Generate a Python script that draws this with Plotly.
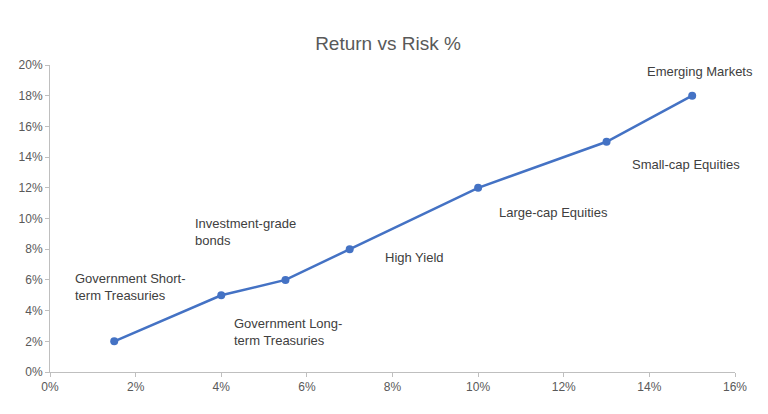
import plotly.graph_objects as go

risk = [1.5, 4, 5.5, 7, 10, 13, 15]
ret = [2, 5, 6, 8, 12, 15, 18]
names = ["Government Short-<br>term Treasuries", "Investment-grade<br>bonds", "Government Long-<br>term Treasuries",
         "High Yield", "Large-cap Equities", "Small-cap Equities", "Emerging Markets"]
lab_x = [1.87, 3.34, 4.25, 7.78, 10.44, 13.55, 13.9]
lab_y = [5.54, 9.12, 2.61, 7.43, 10.36, 13.49, 19.6]
lab_anchor = ["center", "left", "left", "left", "left", "left", "left"]
x_ticks = list(range(0, 17, 2))
y_ticks = list(range(0, 21, 2))

fig = go.Figure(go.Scatter(x=risk, y=ret, mode="lines+markers",
                           line=dict(color="#4472C4", width=2.5),
                           marker=dict(color="#4472C4", size=8), showlegend=False))
for t, x, y, a in zip(names, lab_x, lab_y, lab_anchor):
    fig.add_annotation(x=x, y=y, text=t, showarrow=False, xanchor=a, yanchor="middle",
                       align="left", font=dict(size=13, color="#404040"))
fig.update_layout(
    width=760, height=406, paper_bgcolor="white", plot_bgcolor="white",
    margin=dict(l=42, r=33, t=57, b=42),
    font=dict(family="Liberation Sans, Arial", color="#595959", size=12),
    title=dict(text="Return vs Risk %", x=0.5, xanchor="center", y=0.93,
               font=dict(size=19, color="#595959")),
    xaxis=dict(range=[0, 16], tickvals=x_ticks, ticktext=[f"{v}%" for v in x_ticks],
               showgrid=False, zeroline=False, showline=True, linecolor="#BFBFBF",
               ticks="outside", tickcolor="#BFBFBF", ticklen=4),
    yaxis=dict(range=[0, 20], tickvals=y_ticks, ticktext=[f"{v}%" for v in y_ticks],
               showgrid=False, zeroline=False, showline=True, linecolor="#BFBFBF",
               ticks="outside", tickcolor="#BFBFBF", ticklen=4),
)
fig.write_html("out.html")
